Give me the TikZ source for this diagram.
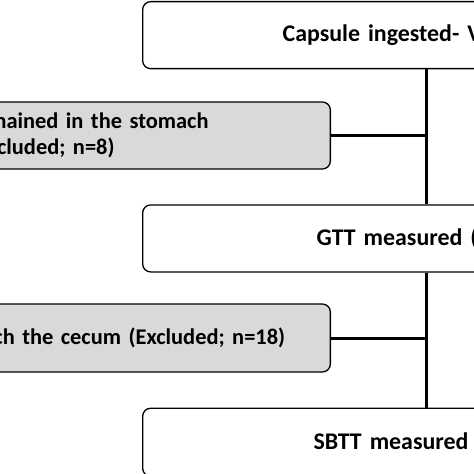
\documentclass[tikz,border=0pt]{standalone}
\usepackage{fontspec}
\setmainfont{Carlito}
\usetikzlibrary{positioning}
\tikzset{
  stage/.style={rectangle, rounded corners=8bp, draw=black, line width=1.3bp, fill=white, align=left, minimum height=67bp, inner ysep=0pt, font=\fontsize{24}{27}\selectfont\bfseries},
  excl/.style={stage, fill=black!15, font=\fontsize{22.5}{25.6}\selectfont\bfseries},
  connect/.style={line width=3bp}
}

\begin{document}
\begin{tikzpicture}[x=1bp,y=-1bp]
  \clip (0,0) rectangle (474,474);
  \coordinate (spine) at (426,0);

  % Main stages down the right side
  \node[stage, anchor=north west, inner xsep=140bp, text width=300bp] (ingested) at (142,1) {Capsule ingested- VC};
  \node[stage, below=135bp of ingested.south west, anchor=north west, inner xsep=174bp, text width=300bp] (gtt) {GTT measured (n};
  \node[stage, below=135bp of gtt.south west, anchor=north west, minimum height=68bp, inner xsep=171bp, text width=300bp] (sbtt) {SBTT measured (};

  % Excluded capsules on the left
  \node[excl, anchor=east, inner xsep=10bp, text width=351bp] (stomach) at (331,135.5) {remained in the stomach\\(Excluded; n=8)};
  \node[excl, anchor=east, minimum height=68bp, inner xsep=5bp, text width=362bp] (cecum) at (331,338) {reach the cecum (Excluded; n=18)};

  % Connectors
  \draw[connect] (ingested.south -| spine) -- (gtt.north -| spine);
  \draw[connect] (gtt.south -| spine) -- (sbtt.north -| spine);
  \draw[connect] (stomach.east) -- (stomach.east -| spine);
  \draw[connect] (cecum.east) -- (cecum.east -| spine);
\end{tikzpicture}
\end{document}
